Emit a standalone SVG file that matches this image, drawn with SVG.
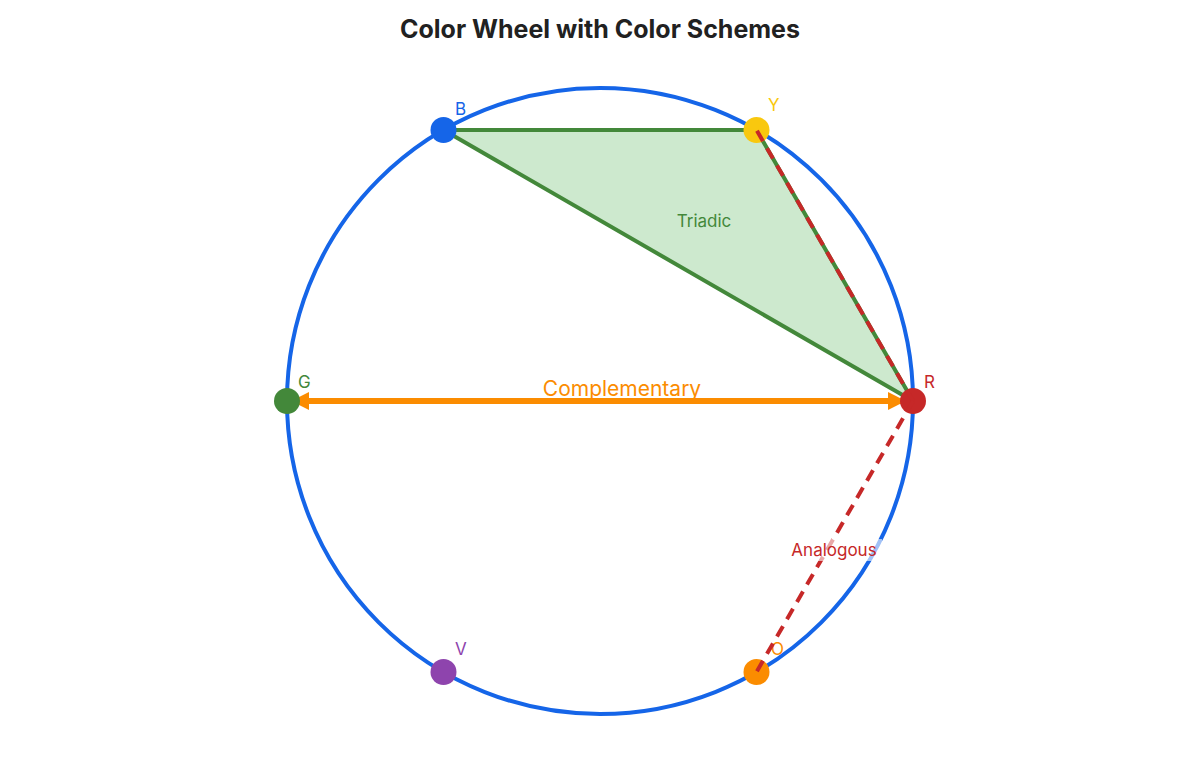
<svg xmlns="http://www.w3.org/2000/svg" width="1200" height="763" viewBox="0 0 1200 763">
<style>
text{font-family:Inter,"Liberation Sans",sans-serif}
.lbl{font-size:17px}
.node{stroke:none}
</style>
<defs>
<marker id="ah" viewBox="0 0 10 10" refX="9" refY="5" markerWidth="3" markerHeight="3" orient="auto-start-reverse"><path d="M0,0L10,5L0,10z" fill="#fb8c00"/></marker>
</defs>
<rect width="1200" height="763" fill="#fff"/>
<text x="600" y="38" text-anchor="middle" font-size="25" font-weight="bold" fill="#212121">Color Wheel with Color Schemes</text>
<circle cx="600" cy="401" r="313" fill="none" stroke="#1565e8" stroke-width="4"/>
<g id="connectors">
<polygon points="443.5,130 756.5,130 913,401" fill="#4caf50" fill-opacity="0.28" stroke="#43883a" stroke-width="4" stroke-linejoin="round"/>
<text x="704" y="227" text-anchor="middle" class="lbl" fill="#43883a">Triadic</text>
<line x1="293" y1="401" x2="904" y2="401" stroke="#fb8c00" stroke-width="6" marker-start="url(#ah)" marker-end="url(#ah)"/>
<text x="622" y="396" text-anchor="middle" font-size="21" fill="#fb8c00">Complementary</text>
</g>
<g id="node-R"><circle class="node" cx="913" cy="401" r="13" fill="#c62828"/><text class="lbl" x="924" y="388" fill="#c62828">R</text></g>
<g id="node-Y"><circle class="node" cx="756.5" cy="130" r="13" fill="#f9c80e"/><text class="lbl" x="768" y="111" fill="#f9c80e">Y</text></g>
<g id="node-B"><circle class="node" cx="443.5" cy="130" r="13" fill="#1565e8"/><text class="lbl" x="455" y="115" fill="#1565e8">B</text></g>
<g id="node-G"><circle class="node" cx="287" cy="401" r="13" fill="#43883a"/><text class="lbl" x="298" y="388" fill="#43883a">G</text></g>
<g id="node-V"><circle class="node" cx="443.5" cy="672" r="13" fill="#8e44ad"/><text class="lbl" x="455" y="655" fill="#8e44ad">V</text></g>
<g id="node-O"><circle class="node" cx="756.5" cy="672" r="13" fill="#fb8c00"/><text class="lbl" x="771" y="655" fill="#fb8c00">O</text></g>
<g id="analogous">
<line x1="913" y1="401" x2="756.5" y2="130" stroke="#c62828" stroke-width="4" stroke-dasharray="12,8"/>
<line x1="913" y1="401" x2="756.5" y2="672" stroke="#c62828" stroke-width="4" stroke-dasharray="12,8"/>
<rect x="786" y="539" width="96" height="22" fill="#fff" fill-opacity="0.6"/>
<text x="834" y="556" text-anchor="middle" class="lbl" fill="#c62828">Analogous</text>
</g>
</svg>
